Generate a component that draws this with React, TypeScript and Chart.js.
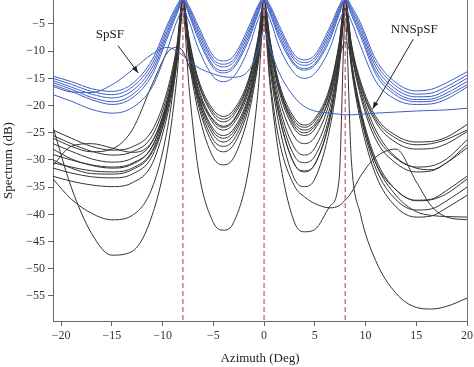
import React, { useEffect, useRef } from 'react';
import { Chart, registerables } from 'chart.js';
Chart.register(...registerables);

// Azimuth sample positions (deg)
const azimuth = [-20.8, -19, -17, -15, -13, -11, -9.5, -8.6, -8, -7.4, -6.5, -5, -4, -3, -1.5, -0.6, 0, 0.6, 1.5, 3, 4, 5, 6.5, 7.4, 8, 8.6, 9.5, 11, 13, 15, 16.5, 18, 20];

// SpSF spectra (blue)
const spsf1 = [-14.6, -15.6, -16.9, -17.4, -16.0, -11.5, -5.0, -1.6, 0, -1.7, -5.3, -10.9, -11.8, -10.9, -5.5, -1.6, 0, -1.6, -5.3, -10.7, -11.6, -10.7, -5.5, -1.7, 0, -1.7, -4.8, -11.5, -15.8, -17.3, -17.0, -15.8, -13.8];
const spsf2 = [-15.0, -16.1, -17.4, -18.0, -16.6, -12.2, -5.6, -2.0, -0.3, -2.1, -5.9, -11.5, -12.4, -11.5, -6.1, -2.0, -0.3, -2.0, -5.9, -11.2, -12.1, -11.2, -6.1, -2.1, -0.3, -2.1, -5.4, -12.2, -16.4, -17.9, -17.7, -16.5, -14.4];
const spsf3 = [-15.4, -16.6, -17.9, -18.6, -17.3, -12.9, -6.2, -2.4, -0.5, -2.5, -6.5, -12.0, -12.9, -12.0, -6.7, -2.4, -0.5, -2.4, -6.5, -11.7, -12.6, -11.7, -6.7, -2.5, -0.5, -2.5, -6.0, -12.9, -17.0, -18.4, -18.3, -17.1, -15.0];
const spsf4 = [-15.8, -17.0, -18.5, -19.3, -18.0, -13.6, -6.8, -2.8, -0.6, -2.9, -7.1, -12.7, -13.6, -12.7, -7.3, -2.8, -0.6, -2.8, -7.1, -12.3, -13.2, -12.3, -7.3, -2.9, -0.6, -2.9, -6.6, -13.6, -17.6, -18.9, -18.8, -17.7, -15.6];
const spsf5 = [-16.2, -17.4, -18.9, -19.8, -18.6, -14.3, -7.4, -3.2, -0.8, -3.3, -7.7, -13.1, -14.0, -13.1, -7.9, -3.2, -0.8, -3.2, -7.7, -12.6, -13.5, -12.6, -7.9, -3.3, -0.8, -3.3, -7.2, -14.2, -18.1, -19.3, -19.2, -18.2, -16.2];
const spsf6 = [-18.0, -19.2, -20.7, -21.4, -20.4, -16.5, -9.5, -4.5, -2.5, -4.5, -9.4, -14.7, -15.6, -14.7, -9.4, -4.2, -2.0, -4.2, -9.2, -14.1, -15.0, -14.1, -9.4, -4.5, -2.5, -4.5, -9.0, -15.5, -18.9, -19.8, -19.7, -18.8, -16.6];
const spsf7 = [-16.5, -17.5, -17.6, -16.2, -13.5, -10.5, -9.3, -10.0, -10.8, -11.8, -13.0, -14.2, -14.7, -14.8, -13.5, -10.0, -6.0, -9.5, -14.0, -18.5, -20.2, -21.0, -21.4, -21.6, -21.7, -21.7, -21.6, -21.4, -21.2, -21.0, -20.9, -20.8, -20.5];

// NNSpSF spectra (black)
const nn1 = [-24.5, -26.0, -27.5, -28.2, -27.6, -24.5, -17.0, -9.0, -0.3, -7.5, -15.0, -20.8, -22.0, -20.8, -15.0, -7.6, -0.5, -8.0, -16.0, -22.3, -23.6, -22.4, -16.5, -8.5, -0.5, -8.5, -15.5, -22.0, -25.5, -26.7, -26.6, -25.8, -23.5];
const nn2 = [-25.5, -27.0, -28.4, -29.1, -28.5, -25.5, -17.8, -9.5, -0.5, -8.1, -15.7, -21.8, -23.0, -21.8, -15.8, -8.3, -1.0, -8.5, -16.7, -23.3, -24.5, -23.4, -17.3, -9.1, -0.8, -9.0, -16.3, -23.0, -26.8, -28.0, -27.9, -27.0, -24.8];
const nn3 = [-27.0, -28.4, -29.8, -30.4, -29.7, -26.6, -18.6, -10.2, -0.8, -8.7, -16.5, -22.8, -24.0, -22.8, -16.7, -9.0, -1.5, -9.3, -17.5, -24.3, -25.5, -24.3, -18.0, -9.5, -1.0, -9.5, -17.5, -25.3, -29.7, -31.3, -31.1, -29.8, -26.3];
const nn4 = [-29.0, -30.0, -30.9, -31.3, -30.6, -27.4, -19.2, -10.7, -1.0, -9.0, -17.0, -23.3, -24.5, -23.3, -17.3, -9.7, -2.0, -10.3, -18.7, -25.8, -27.0, -25.8, -19.0, -10.2, -1.5, -10.1, -18.2, -26.2, -30.6, -32.2, -32.0, -30.5, -27.2];
const nn5 = [-30.5, -31.3, -32.0, -32.2, -31.5, -28.2, -19.8, -11.2, -1.2, -9.5, -17.7, -24.3, -25.5, -24.3, -18.1, -10.3, -2.5, -11.1, -20.0, -27.8, -29.1, -27.8, -20.3, -11.0, -2.0, -11.5, -20.5, -29.8, -35.5, -37.4, -37.2, -35.6, -33.0];
const nn6 = [-31.5, -32.4, -33.1, -33.3, -32.6, -29.2, -20.5, -11.8, -1.5, -10.0, -18.5, -25.4, -26.7, -25.4, -19.0, -11.0, -3.0, -12.3, -22.0, -30.8, -32.2, -30.8, -22.3, -12.2, -2.5, -12.3, -21.8, -31.5, -37.3, -39.2, -39.0, -37.5, -35.0];
const nn7 = [-33.0, -33.9, -34.6, -34.9, -34.2, -30.6, -21.5, -12.5, -2.0, -10.8, -19.7, -27.2, -28.5, -27.2, -20.3, -12.0, -4.0, -13.5, -23.8, -33.5, -34.9, -33.5, -24.0, -13.2, -3.0, -13.0, -22.8, -32.7, -38.6, -40.5, -40.3, -38.8, -36.5];
const nn8 = [-33.5, -37.2, -39.8, -41.0, -40.2, -35.0, -24.0, -12.0, -2.0, -11.5, -21.0, -29.6, -30.9, -29.6, -21.5, -12.5, -5.0, -16.5, -29.5, -41.5, -43.2, -42.8, -38.5, -33.5, -4.0, -30.0, -40.0, -48.5, -54.5, -57.1, -57.4, -56.9, -55.4];
const nn9 = [-24.0, -35.0, -43.5, -47.5, -46.8, -40.0, -28.0, -15.0, -3.0, -16.5, -31.5, -41.5, -42.9, -41.5, -31.5, -17.5, -4.0, -15.5, -26.5, -34.8, -36.8, -38.0, -38.8, -38.4, -37.4, -36.0, -33.0, -29.5, -28.0, -34.0, -38.5, -40.5, -41.0];
const nn10 = [-31.0, -27.5, -27.0, -27.8, -28.6, -26.5, -19.0, -10.0, -1.0, -8.0, -15.5, -21.3, -22.5, -21.3, -15.5, -8.0, -0.8, -8.3, -16.5, -22.8, -24.0, -22.8, -17.0, -8.7, -0.6, -8.8, -16.0, -22.5, -26.0, -27.2, -27.0, -26.2, -24.5];
const nn11 = [-26.0, -27.5, -28.5, -28.0, -24.5, -16.0, -10.2, -9.3, -10.0, -12.8, -18.0, -22.6, -23.8, -22.6, -16.5, -10.0, -6.0, -10.0, -17.0, -23.8, -25.0, -23.8, -18.5, -11.5, -8.3, -11.0, -17.0, -24.5, -29.5, -31.5, -31.8, -30.5, -27.8];
const nn12 = [-28.0, -29.8, -31.0, -31.5, -30.8, -27.5, -19.5, -11.0, -1.2, -9.7, -18.0, -24.8, -26.0, -24.8, -18.5, -10.5, -3.5, -12.0, -21.0, -29.3, -30.5, -29.3, -21.5, -11.5, -2.2, -12.0, -21.0, -30.5, -36.5, -39.5, -40.2, -40.4, -40.5];
const nn13 = [-30.0, -31.5, -32.5, -32.6, -31.8, -28.5, -20.5, -11.5, -1.4, -10.3, -19.0, -26.3, -27.5, -26.3, -19.5, -11.3, -3.8, -12.5, -22.0, -30.8, -32.0, -30.8, -22.5, -12.3, -2.8, -12.5, -21.5, -30.5, -35.5, -37.5, -37.3, -36.2, -33.5];

// True source directions (deg)
const sourceAzimuths = [-8, 0, 8];

const xTicks = [-20, -15, -10, -5, 0, 5, 10, 15, 20];
const yTicks = [-5, -10, -15, -20, -25, -30, -35, -40, -45, -50, -55];

const spsfSeries = [spsf1, spsf2, spsf3, spsf4, spsf5, spsf6, spsf7];
const nnSeries = [nn1, nn2, nn3, nn4, nn5, nn6, nn7, nn8, nn9, nn10, nn11, nn12, nn13];

const SERIF = "'Liberation Serif', 'Times New Roman', Times, serif";
const fmt = (v: number) => (v < 0 ? '\u2212' + Math.abs(v) : String(v));

export default function App() {
  const ref = useRef<HTMLCanvasElement>(null);
  useEffect(() => {
    const canvas = ref.current;
    if (!canvas) return;
    const toPts = (arr: number[]) => azimuth.map((x, i) => ({ x, y: arr[i] }));
    const datasets: any[] = [];
    sourceAzimuths.forEach((x) =>
      datasets.push({
        data: [{ x, y: -80 }, { x, y: 10 }],
        borderColor: '#e36b73',
        borderWidth: 1.4,
        borderDash: [5, 3],
        pointRadius: 0,
        tension: 0,
      })
    );
    spsfSeries.forEach((s) =>
      datasets.push({
        data: toPts(s),
        borderColor: '#3d5ec2',
        borderWidth: 1,
        pointRadius: 0,
        cubicInterpolationMode: 'monotone',
      })
    );
    nnSeries.forEach((s) =>
      datasets.push({
        data: toPts(s),
        borderColor: '#333333',
        borderWidth: 1,
        pointRadius: 0,
        cubicInterpolationMode: 'monotone',
      })
    );

    const annot = {
      id: 'annot',
      afterDraw(chart: any) {
        const { ctx, chartArea, scales } = chart;
        const X = (v: number) => scales.x.getPixelForValue(v);
        const Y = (v: number) => scales.y.getPixelForValue(v);
        ctx.save();
        ctx.strokeStyle = '#777';
        ctx.lineWidth = 1;
        ctx.beginPath();
        ctx.moveTo(Math.round(chartArea.right) + 0.5, chartArea.top);
        ctx.lineTo(Math.round(chartArea.right) + 0.5, chartArea.bottom);
        ctx.stroke();
        const arrow = (x1: number, y1: number, x2: number, y2: number) => {
          ctx.strokeStyle = '#222';
          ctx.fillStyle = '#222';
          ctx.lineWidth = 1;
          ctx.beginPath();
          ctx.moveTo(x1, y1);
          ctx.lineTo(x2, y2);
          ctx.stroke();
          const a = Math.atan2(y2 - y1, x2 - x1);
          const L = 7, W = 2.6;
          ctx.beginPath();
          ctx.moveTo(x2, y2);
          ctx.lineTo(x2 - L * Math.cos(a) + W * Math.sin(a), y2 - L * Math.sin(a) - W * Math.cos(a));
          ctx.lineTo(x2 - L * Math.cos(a) - W * Math.sin(a), y2 - L * Math.sin(a) + W * Math.cos(a));
          ctx.closePath();
          ctx.fill();
        };
        ctx.font = `13px ${SERIF}`;
        ctx.fillStyle = '#222';
        ctx.textAlign = 'center';
        ctx.textBaseline = 'middle';
        ctx.fillText('SpSF', X(-15.2), Y(-7.0));
        ctx.fillText('NNSpSF', X(14.8), Y(-6.1));
        arrow(X(-14.4), Y(-9.0), X(-12.4), Y(-14.0));
        arrow(X(14.7), Y(-7.8), X(10.7), Y(-20.6));
        ctx.restore();
      },
    };

    const chart = new Chart(canvas, {
      type: 'line',
      data: { datasets },
      plugins: [annot],
      options: {
        animation: false,
        responsive: true,
        maintainAspectRatio: false,
        layout: { padding: { left: 0, right: 7, top: 0, bottom: 0 } },
        plugins: { legend: { display: false }, tooltip: { enabled: false } },
        scales: {
          x: {
            type: 'linear',
            min: -20.8,
            max: 20,
            afterBuildTicks: (s: any) => {
              s.ticks = xTicks.map((v) => ({ value: v }));
            },
            afterFit: (s: any) => {
              s.height = 46;
              s.paddingLeft = 0;
              s.paddingRight = 0;
            },
            ticks: {
              callback: (v: any) => fmt(Number(v)),
              font: { family: SERIF, size: 12 },
              color: '#333',
              padding: 3,
              maxRotation: 0,
              autoSkip: false,
            },
            grid: { drawOnChartArea: false, tickLength: 5, color: '#666' },
            border: { display: true, color: '#666', width: 1 },
            title: {
              display: true,
              text: 'Azimuth (Deg)',
              font: { family: SERIF, size: 13 },
              color: '#222',
              padding: { top: 0, bottom: 1 },
            },
          },
          y: {
            type: 'linear',
            min: -59.6,
            max: -0.6,
            afterBuildTicks: (s: any) => {
              s.ticks = yTicks.map((v) => ({ value: v }));
            },
            afterFit: (s: any) => {
              s.width = 53;
              s.paddingTop = 0;
              s.paddingBottom = 0;
            },
            ticks: {
              callback: (v: any) => fmt(Number(v)),
              font: { family: SERIF, size: 12 },
              color: '#333',
              padding: 3,
              autoSkip: false,
            },
            grid: { drawOnChartArea: false, tickLength: 5, color: '#666' },
            border: { display: true, color: '#666', width: 1 },
            title: {
              display: true,
              text: 'Spectrum (dB)',
              font: { family: SERIF, size: 13 },
              color: '#222',
              padding: { top: 1, bottom: 0 },
            },
          },
        },
      },
    } as any);
    return () => chart.destroy();
  }, []);
  return (
    <div style={{ position: 'fixed', left: 0, top: 0, width: 474, height: 367, background: '#fff' }}>
      <canvas ref={ref} />
    </div>
  );
}
